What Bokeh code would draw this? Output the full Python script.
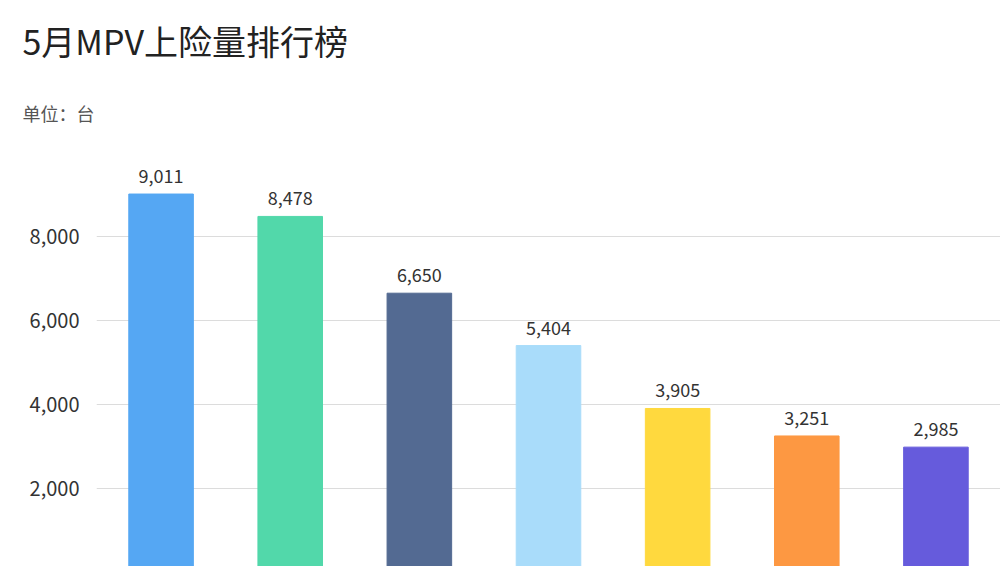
from bokeh.plotting import figure
from bokeh.models import ColumnDataSource, Title, NumeralTickFormatter, FixedTicker, Range1d, FactorRange
from bokeh.core.properties import value
from bokeh.embed import file_html
from bokeh.resources import INLINE

# data (category names are not visible in the cropped picture; ranks used)
ranks = ["1", "2", "3", "4", "5", "6", "7"]
volumes = [9011, 8478, 6650, 5404, 3905, 3251, 2985]
bar_colors = ["#55A7F3", "#52D8AA", "#536A92", "#A9DCFA", "#FFD93E", "#FD9842", "#665BDC"]
y_ticks = [0, 2000, 4000, 6000, 8000]
title_text = "5月MPV上险量排行榜"
unit_text = "单位：台"

FONT = "Noto Sans CJK SC"
H = 566

labels = [f"{v:,}" for v in volumes]
src = ColumnDataSource(dict(rank=ranks, vol=volumes, color=bar_colors, label=labels))

p = figure(width=1000, height=H, x_range=FactorRange(*ranks), y_range=Range1d(143, 10000),
           output_backend="svg", toolbar_location=None, title=None,
           min_border_left=96, min_border_right=0, min_border_top=152, min_border_bottom=0)
p.outline_line_color = None
p.background_fill_color = "white"
p.border_fill_color = "white"

p.vbar(x="rank", top="vol", bottom=0, width=0.5, color="color", source=src)
p.text(x="rank", y="vol", text="label", source=src, text_align="center", text_baseline="bottom",
       y_offset=-11, text_font=value(FONT), text_font_size="18px", text_color="#333333")

p.xaxis.visible = False
p.xgrid.visible = False
p.ygrid.grid_line_color = "#DCDCDC"
p.ygrid.grid_line_width = 1
p.yaxis.ticker = FixedTicker(ticks=y_ticks)
p.yaxis.formatter = NumeralTickFormatter(format="0,0")
p.yaxis.axis_line_color = None
p.yaxis.major_tick_line_color = None
p.yaxis.minor_tick_line_color = None
p.yaxis.major_label_text_font = FONT
p.yaxis.major_label_text_font_size = "20px"
p.yaxis.major_label_text_color = "#333333"
p.yaxis.major_label_standoff = 11

p.add_layout(Title(text=unit_text, align="left", offset=-74, standoff=53,
                   text_font=FONT, text_font_size="18px", text_font_style="normal",
                   text_color="#555555"), "above")
p.add_layout(Title(text=title_text, align="left", offset=-74, standoff=14,
                   text_font=FONT, text_font_size="34px", text_font_style="normal",
                   text_color="#222222"), "above")

open("out.html", "w").write(file_html(p, INLINE))
